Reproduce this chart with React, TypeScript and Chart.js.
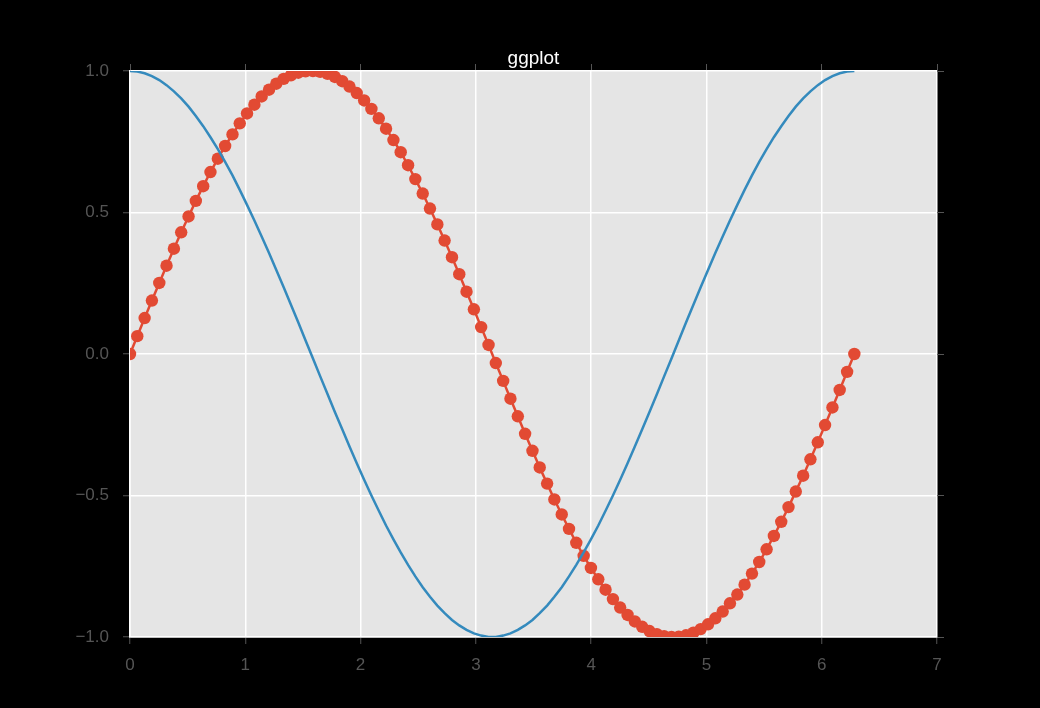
import React, { useEffect, useRef } from "react";
import { Chart, registerables } from "chart.js";

Chart.register(...registerables);

const TITLE = "ggplot";

const xValues = [
  0.0, 0.063, 0.127, 0.19, 0.254, 0.317, 0.381, 0.444, 0.508, 0.571,
  0.635, 0.698, 0.762, 0.825, 0.889, 0.952, 1.015, 1.079, 1.142, 1.206,
  1.269, 1.333, 1.396, 1.46, 1.523, 1.587, 1.65, 1.714, 1.777, 1.841,
  1.904, 1.967, 2.031, 2.094, 2.158, 2.221, 2.285, 2.348, 2.412, 2.475,
  2.539, 2.602, 2.666, 2.729, 2.793, 2.856, 2.919, 2.983, 3.046, 3.11,
  3.173, 3.237, 3.3, 3.364, 3.427, 3.491, 3.554, 3.618, 3.681, 3.745,
  3.808, 3.871, 3.935, 3.998, 4.062, 4.125, 4.189, 4.252, 4.316, 4.379,
  4.443, 4.506, 4.57, 4.633, 4.697, 4.76, 4.823, 4.887, 4.95, 5.014,
  5.077, 5.141, 5.204, 5.268, 5.331, 5.395, 5.458, 5.522, 5.585, 5.649,
  5.712, 5.775, 5.839, 5.902, 5.966, 6.029, 6.093, 6.156, 6.22, 6.283,
];

const sinValues = [
  0, 0.063, 0.127, 0.189, 0.251, 0.312, 0.372, 0.43, 0.486, 0.541,
  0.593, 0.643, 0.69, 0.735, 0.776, 0.815, 0.85, 0.881, 0.91, 0.934,
  0.955, 0.972, 0.985, 0.994, 0.999, 1.0, 0.997, 0.99, 0.979, 0.964,
  0.945, 0.922, 0.896, 0.866, 0.833, 0.796, 0.756, 0.713, 0.667, 0.618,
  0.567, 0.514, 0.458, 0.401, 0.342, 0.282, 0.22, 0.158, 0.095, 0.032,
  -0.032, -0.095, -0.158, -0.22, -0.282, -0.342, -0.401, -0.458, -0.514, -0.567,
  -0.618, -0.667, -0.713, -0.756, -0.796, -0.833, -0.866, -0.896, -0.922, -0.945,
  -0.964, -0.979, -0.99, -0.997, -1.0, -0.999, -0.994, -0.985, -0.972, -0.955,
  -0.934, -0.91, -0.881, -0.85, -0.815, -0.776, -0.735, -0.69, -0.643, -0.593,
  -0.541, -0.486, -0.43, -0.372, -0.312, -0.251, -0.189, -0.127, -0.063, 0,
];

const cosValues = [
  1.0, 0.998, 0.992, 0.982, 0.968, 0.95, 0.928, 0.903, 0.874, 0.841,
  0.805, 0.766, 0.724, 0.679, 0.631, 0.58, 0.527, 0.472, 0.415, 0.357,
  0.297, 0.236, 0.174, 0.111, 0.048, -0.016, -0.079, -0.142, -0.205, -0.266,
  -0.327, -0.386, -0.444, -0.5, -0.554, -0.606, -0.655, -0.701, -0.745, -0.786,
  -0.824, -0.858, -0.889, -0.916, -0.94, -0.959, -0.975, -0.987, -0.995, -1.0,
  -1.0, -0.995, -0.987, -0.975, -0.959, -0.94, -0.916, -0.889, -0.858, -0.824,
  -0.786, -0.745, -0.701, -0.655, -0.606, -0.554, -0.5, -0.444, -0.386, -0.327,
  -0.266, -0.205, -0.142, -0.079, -0.016, 0.048, 0.111, 0.174, 0.236, 0.297,
  0.357, 0.415, 0.472, 0.527, 0.58, 0.631, 0.679, 0.724, 0.766, 0.805,
  0.841, 0.874, 0.903, 0.928, 0.95, 0.968, 0.982, 0.992, 0.998, 1.0,
];

const xTicks = [0, 1, 2, 3, 4, 5, 6, 7];
const yTicks = [-1.0, -0.5, 0.0, 0.5, 1.0];

const BG = "#000000";
const PANEL = "#E5E5E5";
const TICK_COLOR = "#555555";
const RED = "#E24A33";
const BLUE = "#348ABD";
const FONT = "'Liberation Sans', Arial, sans-serif";

export default function App() {
  const ref = useRef<HTMLCanvasElement | null>(null);

  useEffect(() => {
    document.body.style.margin = "0";
    document.body.style.background = BG;
    const canvas = ref.current;
    if (!canvas) return;

    const bgPlugin = {
      id: "bgPlugin",
      beforeDraw(chart: any) {
        const { ctx, chartArea } = chart;
        ctx.save();
        ctx.fillStyle = BG;
        ctx.fillRect(0, 0, chart.width, chart.height);
        ctx.fillStyle = PANEL;
        ctx.fillRect(
          chartArea.left,
          chartArea.top,
          chartArea.right - chartArea.left,
          chartArea.bottom - chartArea.top
        );
        ctx.restore();
      },
      afterDraw(chart: any) {
        const { ctx, chartArea } = chart;
        ctx.save();
        ctx.fillStyle = "#ffffff";
        ctx.font = `19px ${FONT}`;
        ctx.textAlign = "center";
        ctx.textBaseline = "alphabetic";
        ctx.fillText(TITLE, (chartArea.left + chartArea.right) / 2, 64);
        ctx.restore();
      },
    };

    const sideAxis = (position: string, axis: string, ticksList: number[], min: number, max: number) => ({
      type: "linear",
      position,
      axis,
      min,
      max,
      afterBuildTicks: (scale: any) => {
        scale.ticks = ticksList.map((v) => ({ value: v }));
      },
      ticks: { display: false },
      grid: {
        drawOnChartArea: false,
        drawTicks: true,
        tickLength: 7,
        tickWidth: 1,
        tickColor: TICK_COLOR,
      },
      border: { display: false },
    });

    const chart = new Chart(canvas, {
      type: "scatter",
      data: {
        datasets: [
          {
            label: "cos",
            data: xValues.map((x, i) => ({ x, y: cosValues[i] })),
            showLine: true,
            borderColor: BLUE,
            borderWidth: 2.5,
            pointRadius: 0,
            pointHoverRadius: 0,
            clip: 0,
          } as any,
          {
            label: "sin",
            data: xValues.map((x, i) => ({ x, y: sinValues[i] })),
            showLine: true,
            borderColor: RED,
            borderWidth: 2.5,
            backgroundColor: RED,
            pointBackgroundColor: RED,
            pointBorderWidth: 0,
            pointRadius: 6.2,
            pointHoverRadius: 6.2,
            clip: 0,
          } as any,
        ],
      },
      options: {
        responsive: false,
        animation: false,
        events: [],
        layout: { padding: 0 },
        plugins: {
          legend: { display: false },
          title: { display: false },
          tooltip: { enabled: false },
        },
        scales: {
          x: {
            type: "linear",
            position: "bottom",
            min: 0,
            max: 7,
            afterBuildTicks: (scale: any) => {
              scale.ticks = xTicks.map((v) => ({ value: v }));
            },
            afterFit: (scale: any) => {
              scale.height = 71;
            },
            ticks: {
              color: TICK_COLOR,
              font: { family: FONT, size: 17 },
              padding: 11,
              callback: (v: any) => String(v),
            },
            grid: {
              color: "#ffffff",
              lineWidth: 1.5,
              drawTicks: true,
              tickLength: 7,
              tickWidth: 1,
              tickColor: TICK_COLOR,
            },
            border: { display: true, color: "#ffffff", width: 1.5 },
          },
          x2: {
            ...sideAxis("top", "x", xTicks, 0, 7),
            afterFit: (scale: any) => {
              scale.height = 71;
            },
          },
          y: {
            type: "linear",
            position: "left",
            min: -1,
            max: 1,
            afterBuildTicks: (scale: any) => {
              scale.ticks = yTicks.map((v) => ({ value: v }));
            },
            afterFit: (scale: any) => {
              scale.width = 130;
            },
            ticks: {
              color: TICK_COLOR,
              font: { family: FONT, size: 17 },
              padding: 14,
              callback: (v: any) => Number(v).toFixed(1).replace("-", "\u2212"),
            },
            grid: {
              color: "#ffffff",
              lineWidth: 1.5,
              drawTicks: true,
              tickLength: 7,
              tickWidth: 1,
              tickColor: TICK_COLOR,
            },
            border: { display: true, color: "#ffffff", width: 1.5 },
          },
          y2: {
            ...sideAxis("right", "y", yTicks, -1, 1),
            afterFit: (scale: any) => {
              scale.width = 103;
            },
          },
        },
      } as any,
      plugins: [bgPlugin],
    });

    return () => {
      chart.destroy();
    };
  }, []);

  return (
    <div style={{ width: 1040, height: 708, background: BG }}>
      <canvas ref={ref} width={1040} height={708} style={{ display: "block" }} />
    </div>
  );
}
